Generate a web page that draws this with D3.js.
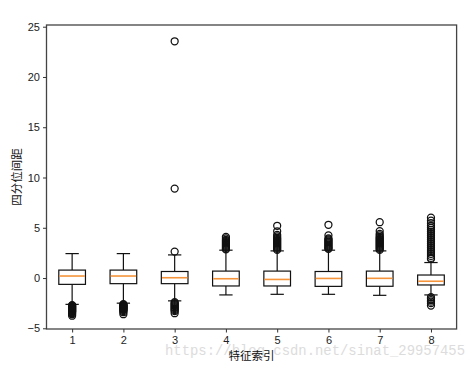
<!DOCTYPE html>
<html><head><meta charset="utf-8">
<script src="https://cdn.jsdelivr.net/npm/d3@7/dist/d3.min.js"></script>
<style>body{margin:0;background:#fff}svg{display:block}</style>
</head><body>
<svg id="chart" width="474" height="367"></svg>
<script>
const categories = [1, 2, 3, 4, 5, 6, 7, 8];
const q1 = [-0.63, -0.56, -0.56, -0.79, -0.79, -0.83, -0.82, -0.69];
const medians = [0.2, 0.2, 0.03, -0.07, -0.14, -0.04, -0.03, -0.32];
const q3 = [0.79, 0.79, 0.65, 0.69, 0.69, 0.65, 0.69, 0.3];
const whiskerLow = [-2.62, -2.5, -2.27, -1.68, -1.62, -1.62, -1.72, -1.68];
const whiskerHigh = [2.43, 2.43, 2.3, 2.77, 2.7, 2.77, 2.7, 1.54];
const outliers1 = [-2.7, -2.75, -2.8, -2.85, -2.9, -2.95, -3.0, -3.05, -3.1, -3.15, -3.2, -3.25, -3.3, -3.35, -3.4, -3.5, -3.6, -3.75];
const outliers2 = [-2.6, -2.65, -2.7, -2.75, -2.8, -2.85, -2.9, -2.95, -3.0, -3.05, -3.1, -3.15, -3.2, -3.3, -3.4, -3.6];
const outliers3 = [23.55, 8.9, 2.63, -2.4, -2.5, -2.6, -2.7, -2.8, -2.9, -3.0, -3.1, -3.2, -3.3, -3.5];
const outliers4 = [4.1, 3.95, 3.8, 3.7, 3.6, 3.5, 3.4, 3.3, 3.2, 3.1, 3.0, 2.9, 2.85];
const outliers5 = [5.2, 4.65, 4.3, 4.15, 4.0, 3.9, 3.8, 3.7, 3.6, 3.5, 3.4, 3.3, 3.2, 3.1, 3.0, 2.9, 2.8];
const outliers6 = [5.3, 4.25, 3.95, 3.85, 3.75, 3.65, 3.55, 3.45, 3.35, 3.25, 3.15, 3.05, 2.95, 2.9];
const outliers7 = [5.55, 4.67, 4.4, 4.25, 4.1, 4.0, 3.9, 3.8, 3.7, 3.6, 3.5, 3.4, 3.3, 3.2, 3.1, 3.0, 2.9, 2.8];
const outliers8 = [6.0, 5.7, 5.45, 5.2, 5.0, 4.8, 4.6, 4.4, 4.2, 4.0, 3.8, 3.6, 3.4, 3.2, 3.0, 2.8, 2.6, 2.4, 2.2, 2.0, 1.9, -1.9, -2.05, -2.2, -2.35, -2.5, -2.74];
const outliers = [outliers1, outliers2, outliers3, outliers4, outliers5, outliers6, outliers7, outliers8];
const yTicks = [-5, 0, 5, 10, 15, 20, 25];
const xLabel = "特征索引";
const yLabel = "四分位间距";
const watermark = "https://blog.csdn.net/sinat_29957455";

const W = 474, H = 367;
const m = {left: 46.5, right: 17.4, top: 25, bottom: 38};
const svg = d3.select("#chart");

const x = d3.scaleLinear().domain([0.5, 8.5]).range([m.left, W - m.right]);
const y = d3.scaleLinear().domain([-5.07, 25.17]).range([H - m.bottom, m.top]);
const unit = x(1) - x(0);
const boxW = unit * 0.52;
const capW = boxW * 0.5;
const lw = 1.2;

// watermark
svg.append("text").attr("x", 165).attr("y", 355)
  .attr("font-family", "Liberation Mono, DejaVu Sans Mono, monospace")
  .attr("font-size", 14).attr("fill", "#dcdcdc")
  .attr("textLength", 300).attr("lengthAdjust", "spacingAndGlyphs")
  .text(watermark);

const g = svg.append("g");
categories.forEach((c, i) => {
  const cx = x(c);
  const bg = g.append("g");
  bg.append("line").attr("x1", cx).attr("x2", cx).attr("y1", y(q3[i])).attr("y2", y(whiskerHigh[i]))
    .attr("stroke", "#111").attr("stroke-width", lw);
  bg.append("line").attr("x1", cx).attr("x2", cx).attr("y1", y(q1[i])).attr("y2", y(whiskerLow[i]))
    .attr("stroke", "#111").attr("stroke-width", lw);
  [whiskerHigh[i], whiskerLow[i]].forEach(v => {
    bg.append("line").attr("x1", cx - capW / 2).attr("x2", cx + capW / 2).attr("y1", y(v)).attr("y2", y(v))
      .attr("stroke", "#111").attr("stroke-width", lw);
  });
  bg.append("rect").attr("x", cx - boxW / 2).attr("width", boxW)
    .attr("y", y(q3[i])).attr("height", y(q1[i]) - y(q3[i]))
    .attr("fill", "none").attr("stroke", "#111").attr("stroke-width", lw);
  bg.append("line").attr("x1", cx - boxW / 2 + 0.6).attr("x2", cx + boxW / 2 - 0.6)
    .attr("y1", y(medians[i])).attr("y2", y(medians[i]))
    .attr("stroke", "#f5943a").attr("stroke-width", 1.6);
  bg.selectAll("circle.f").data(outliers[i]).enter().append("circle")
    .attr("cx", cx).attr("cy", d => y(d)).attr("r", 3.5)
    .attr("fill", "none").attr("stroke", "#111").attr("stroke-width", 1.25);
});

// frame
svg.append("rect").attr("x", m.left).attr("y", m.top)
  .attr("width", W - m.right - m.left).attr("height", H - m.bottom - m.top)
  .attr("fill", "none").attr("stroke", "#444").attr("stroke-width", 1.3);

// axes
const yAxis = svg.append("g").attr("transform", `translate(${m.left},0)`)
  .call(d3.axisLeft(y).tickValues(yTicks).tickSize(3.5).tickPadding(3).tickFormat(d3.format("d")));
const xAxis = svg.append("g").attr("transform", `translate(0,${H - m.bottom})`)
  .call(d3.axisBottom(x).tickValues(categories).tickSize(3.5).tickPadding(4).tickFormat(d3.format("d")));
[yAxis, xAxis].forEach(a => {
  a.select(".domain").remove();
  a.selectAll("line").attr("stroke", "#333");
  a.selectAll("text").attr("font-family", "Liberation Sans, Arial, sans-serif").attr("font-size", 11).attr("fill", "#222");
});

svg.append("text").attr("x", (m.left + W - m.right) / 2).attr("y", 355)
  .attr("text-anchor", "middle").attr("dominant-baseline", "central")
  .attr("font-family", "Noto Sans CJK SC, sans-serif").attr("font-size", 11.5).attr("fill", "#111")
  .text(xLabel);
svg.append("text").attr("transform", `translate(16,${(m.top + H - m.bottom) / 2}) rotate(-90)`)
  .attr("text-anchor", "middle").attr("dominant-baseline", "central")
  .attr("font-family", "Noto Sans CJK SC, sans-serif").attr("font-size", 11.5).attr("fill", "#111")
  .text(yLabel);
</script>
</body></html>
